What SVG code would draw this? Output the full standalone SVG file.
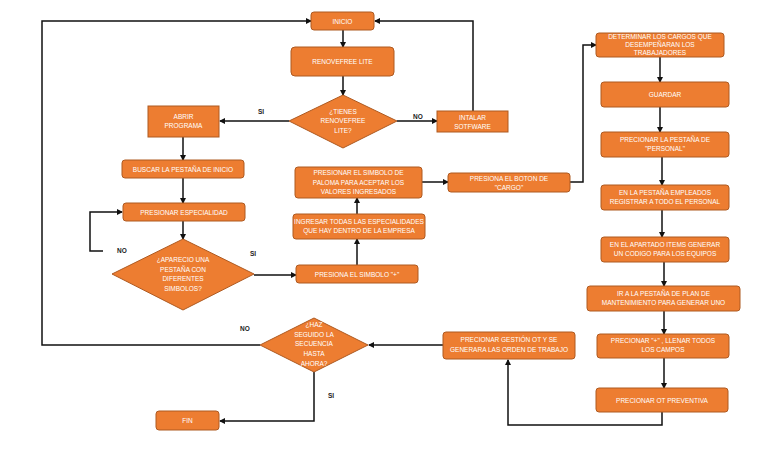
<svg xmlns="http://www.w3.org/2000/svg" width="768" height="450" viewBox="0 0 768 450">
<style>
.n{fill:#ED7D31;stroke:#AE5A21;stroke-width:1}
.t{font-family:"Liberation Sans",Arial,sans-serif;font-size:6.5px;fill:#fff;text-anchor:middle}
.l{font-family:"Liberation Sans",Arial,sans-serif;font-size:6.5px;fill:#222;font-weight:bold}
.c{fill:none;stroke:#111;stroke-width:1.5}
</style>
<defs><marker id="a" markerWidth="6" markerHeight="6" refX="5" refY="3" orient="auto" markerUnits="userSpaceOnUse"><path d="M0,0L6,3L0,6z" fill="#111"/></marker></defs>
<rect width="768" height="450" fill="#fff"/>
<g id="connectors">
<path class="c" marker-end="url(#a)" d="M343,30V47"/>
<path class="c" marker-end="url(#a)" d="M343,76V95"/>
<path class="c" marker-end="url(#a)" d="M397,121H437"/>
<path class="c" marker-end="url(#a)" d="M473,111V21H375"/>
<path class="c" marker-end="url(#a)" d="M289,121H220"/>
<path class="c" marker-end="url(#a)" d="M183,137V160"/>
<path class="c" marker-end="url(#a)" d="M183,178V203"/>
<path class="c" marker-end="url(#a)" d="M183,221V239"/>
<path class="c" marker-end="url(#a)" d="M103,251H90V212H122"/>
<path class="c" marker-end="url(#a)" d="M254,275H296"/>
<path class="c" marker-end="url(#a)" d="M357,265V239"/>
<path class="c" marker-end="url(#a)" d="M357,214V198"/>
<path class="c" marker-end="url(#a)" d="M422,182H448"/>
<path class="c" marker-end="url(#a)" d="M570,182H583V45H596"/>
<path class="c" marker-end="url(#a)" d="M660,57V82"/>
<path class="c" marker-end="url(#a)" d="M660,107V132"/>
<path class="c" marker-end="url(#a)" d="M662,157V185"/>
<path class="c" marker-end="url(#a)" d="M662,210V237"/>
<path class="c" marker-end="url(#a)" d="M664,262V286"/>
<path class="c" marker-end="url(#a)" d="M664,311V334"/>
<path class="c" marker-end="url(#a)" d="M664,358V388"/>
<path class="c" marker-end="url(#a)" d="M662,412V425H508V360"/>
<path class="c" marker-end="url(#a)" d="M443,345H369"/>
<path class="c" marker-end="url(#a)" d="M260,345H42V21H311"/>
<path class="c" marker-end="url(#a)" d="M314,372V421H220"/>
<text class="l" x="258" y="114">SI</text>
<text class="l" x="413" y="119">NO</text>
<text class="l" x="117" y="253">NO</text>
<text class="l" x="250" y="256">SI</text>
<text class="l" x="240" y="331">NO</text>
<text class="l" x="328" y="398">SI</text>
</g>
<g id="inicio"><rect class="n" x="311" y="12" width="63" height="18" rx="3"/><text class="t" x="342.5" y="23.5">INICIO</text></g>
<g id="renovefree"><rect class="n" x="291" y="47" width="103" height="29" rx="4"/><text class="t" x="342.5" y="63.5">RENOVEFREE LITE</text></g>
<g id="d1"><path class="n" d="M343,95L397,121L343,148L289,121Z"/><text class="t" x="343" y="114">¿TIENES</text><text class="t" x="343" y="123">RENOVEFREE</text><text class="t" x="343" y="133">LITE?</text></g>
<g id="instalar"><rect class="n" x="437" y="111" width="71" height="21"/><text class="t" x="472.5" y="119.5">INTALAR</text><text class="t" x="472.5" y="128.5">SOTFWARE</text></g>
<g id="abrir"><rect class="n" x="148" y="106" width="71" height="31"/><text class="t" x="183.5" y="119">ABRIR</text><text class="t" x="183.5" y="128">PROGRAMA</text></g>
<g id="buscar"><rect class="n" x="122" y="160" width="122" height="18" rx="3"/><text class="t" x="183" y="171.5">BUSCAR LA PESTAÑA DE INICIO</text></g>
<g id="especialidad"><rect class="n" x="123" y="203" width="122" height="18" rx="3"/><text class="t" x="184" y="214.5">PRESIONAR ESPECIALIDAD</text></g>
<g id="d2"><path class="n" d="M183,239L254,274L183,310L112,274Z"/><text class="t" x="183" y="262">¿APARECIO UNA</text><text class="t" x="183" y="272">PESTAÑA CON</text><text class="t" x="183" y="281">DIFERENTES</text><text class="t" x="183" y="291">SIMBOLOS?</text></g>
<g id="simbolo"><rect class="n" x="296" y="265" width="122" height="18" rx="3"/><text class="t" x="357" y="276.5">PRESIONA EL SIMBOLO "+"</text></g>
<g id="ingresar"><rect class="n" x="293" y="214" width="132" height="25" rx="3"/><text class="t" x="359" y="224">INGRESAR TODAS LAS ESPECIALIDADES</text><text class="t" x="359" y="233">QUE HAY DENTRO DE LA EMPRESA</text></g>
<g id="paloma"><rect class="n" x="295" y="167" width="127" height="31" rx="3"/><text class="t" x="358.5" y="175">PRESIONAR EL SIMBOLO DE</text><text class="t" x="358.5" y="185">PALOMA PARA ACEPTAR LOS</text><text class="t" x="358.5" y="194">VALORES INGRESADOS</text></g>
<g id="cargo"><rect class="n" x="448" y="173" width="122" height="19" rx="3"/><text class="t" x="509" y="180.5">PRESIONA EL BOTON DE</text><text class="t" x="509" y="190">"CARGO"</text></g>
<g id="determinar"><rect class="n" x="596" y="33" width="128" height="24" rx="3"/><text class="t" x="660" y="39">DETERMINAR LOS CARGOS QUE</text><text class="t" x="660" y="47">DESEMPEÑARAN LOS</text><text class="t" x="660" y="55">TRABAJADORES</text></g>
<g id="guardar"><rect class="n" x="601" y="82" width="128" height="25" rx="3"/><text class="t" x="665" y="97">GUARDAR</text></g>
<g id="personal"><rect class="n" x="601" y="132" width="128" height="25" rx="3"/><text class="t" x="665" y="142">PRECIONAR LA PESTAÑA  DE</text><text class="t" x="665" y="151">"PERSONAL"</text></g>
<g id="empleados"><rect class="n" x="601" y="185" width="128" height="25" rx="3"/><text class="t" x="665" y="195">EN LA PESTAÑA EMPLEADOS</text><text class="t" x="665" y="204">REGISTRAR A TODO EL PERSONAL</text></g>
<g id="items"><rect class="n" x="601" y="237" width="128" height="25" rx="3"/><text class="t" x="665" y="247">EN EL APARTADO ITEMS GENERAR</text><text class="t" x="665" y="256">UN CODIGO PARA LOS EQUIPOS</text></g>
<g id="plan"><rect class="n" x="587" y="286" width="153" height="25" rx="3"/><text class="t" x="663.5" y="296">IR A LA PESTAÑA DE PLAN DE</text><text class="t" x="663.5" y="305">MANTENIMIENTO PARA GENERAR UNO</text></g>
<g id="llenar"><rect class="n" x="597" y="334" width="132" height="24" rx="3"/><text class="t" x="663" y="343">PRECIONAR "+" , LLENAR TODOS</text><text class="t" x="663" y="352">LOS CAMPOS</text></g>
<g id="preventiva"><rect class="n" x="596" y="388" width="132" height="24" rx="3"/><text class="t" x="662" y="402.5">PRECIONAR OT PREVENTIVA</text></g>
<g id="gestion"><rect class="n" x="443" y="332" width="132" height="27" rx="3"/><text class="t" x="509" y="342">PRECIONAR GESTIÓN OT Y SE</text><text class="t" x="509" y="352">GENERARA LAS ORDEN DE TRABAJO</text></g>
<g id="d3"><path class="n" d="M314,318L368,345L314,372L260,345Z"/><text class="t" x="314" y="327">¿HAZ</text><text class="t" x="314" y="337">SEGUIDO LA</text><text class="t" x="314" y="346">SECUENCIA</text><text class="t" x="314" y="356">HASTA</text><text class="t" x="314" y="366">AHORA?</text></g>
<g id="fin"><rect class="n" x="156" y="411" width="63" height="19" rx="3"/><text class="t" x="187.5" y="423">FIN</text></g>
</svg>
